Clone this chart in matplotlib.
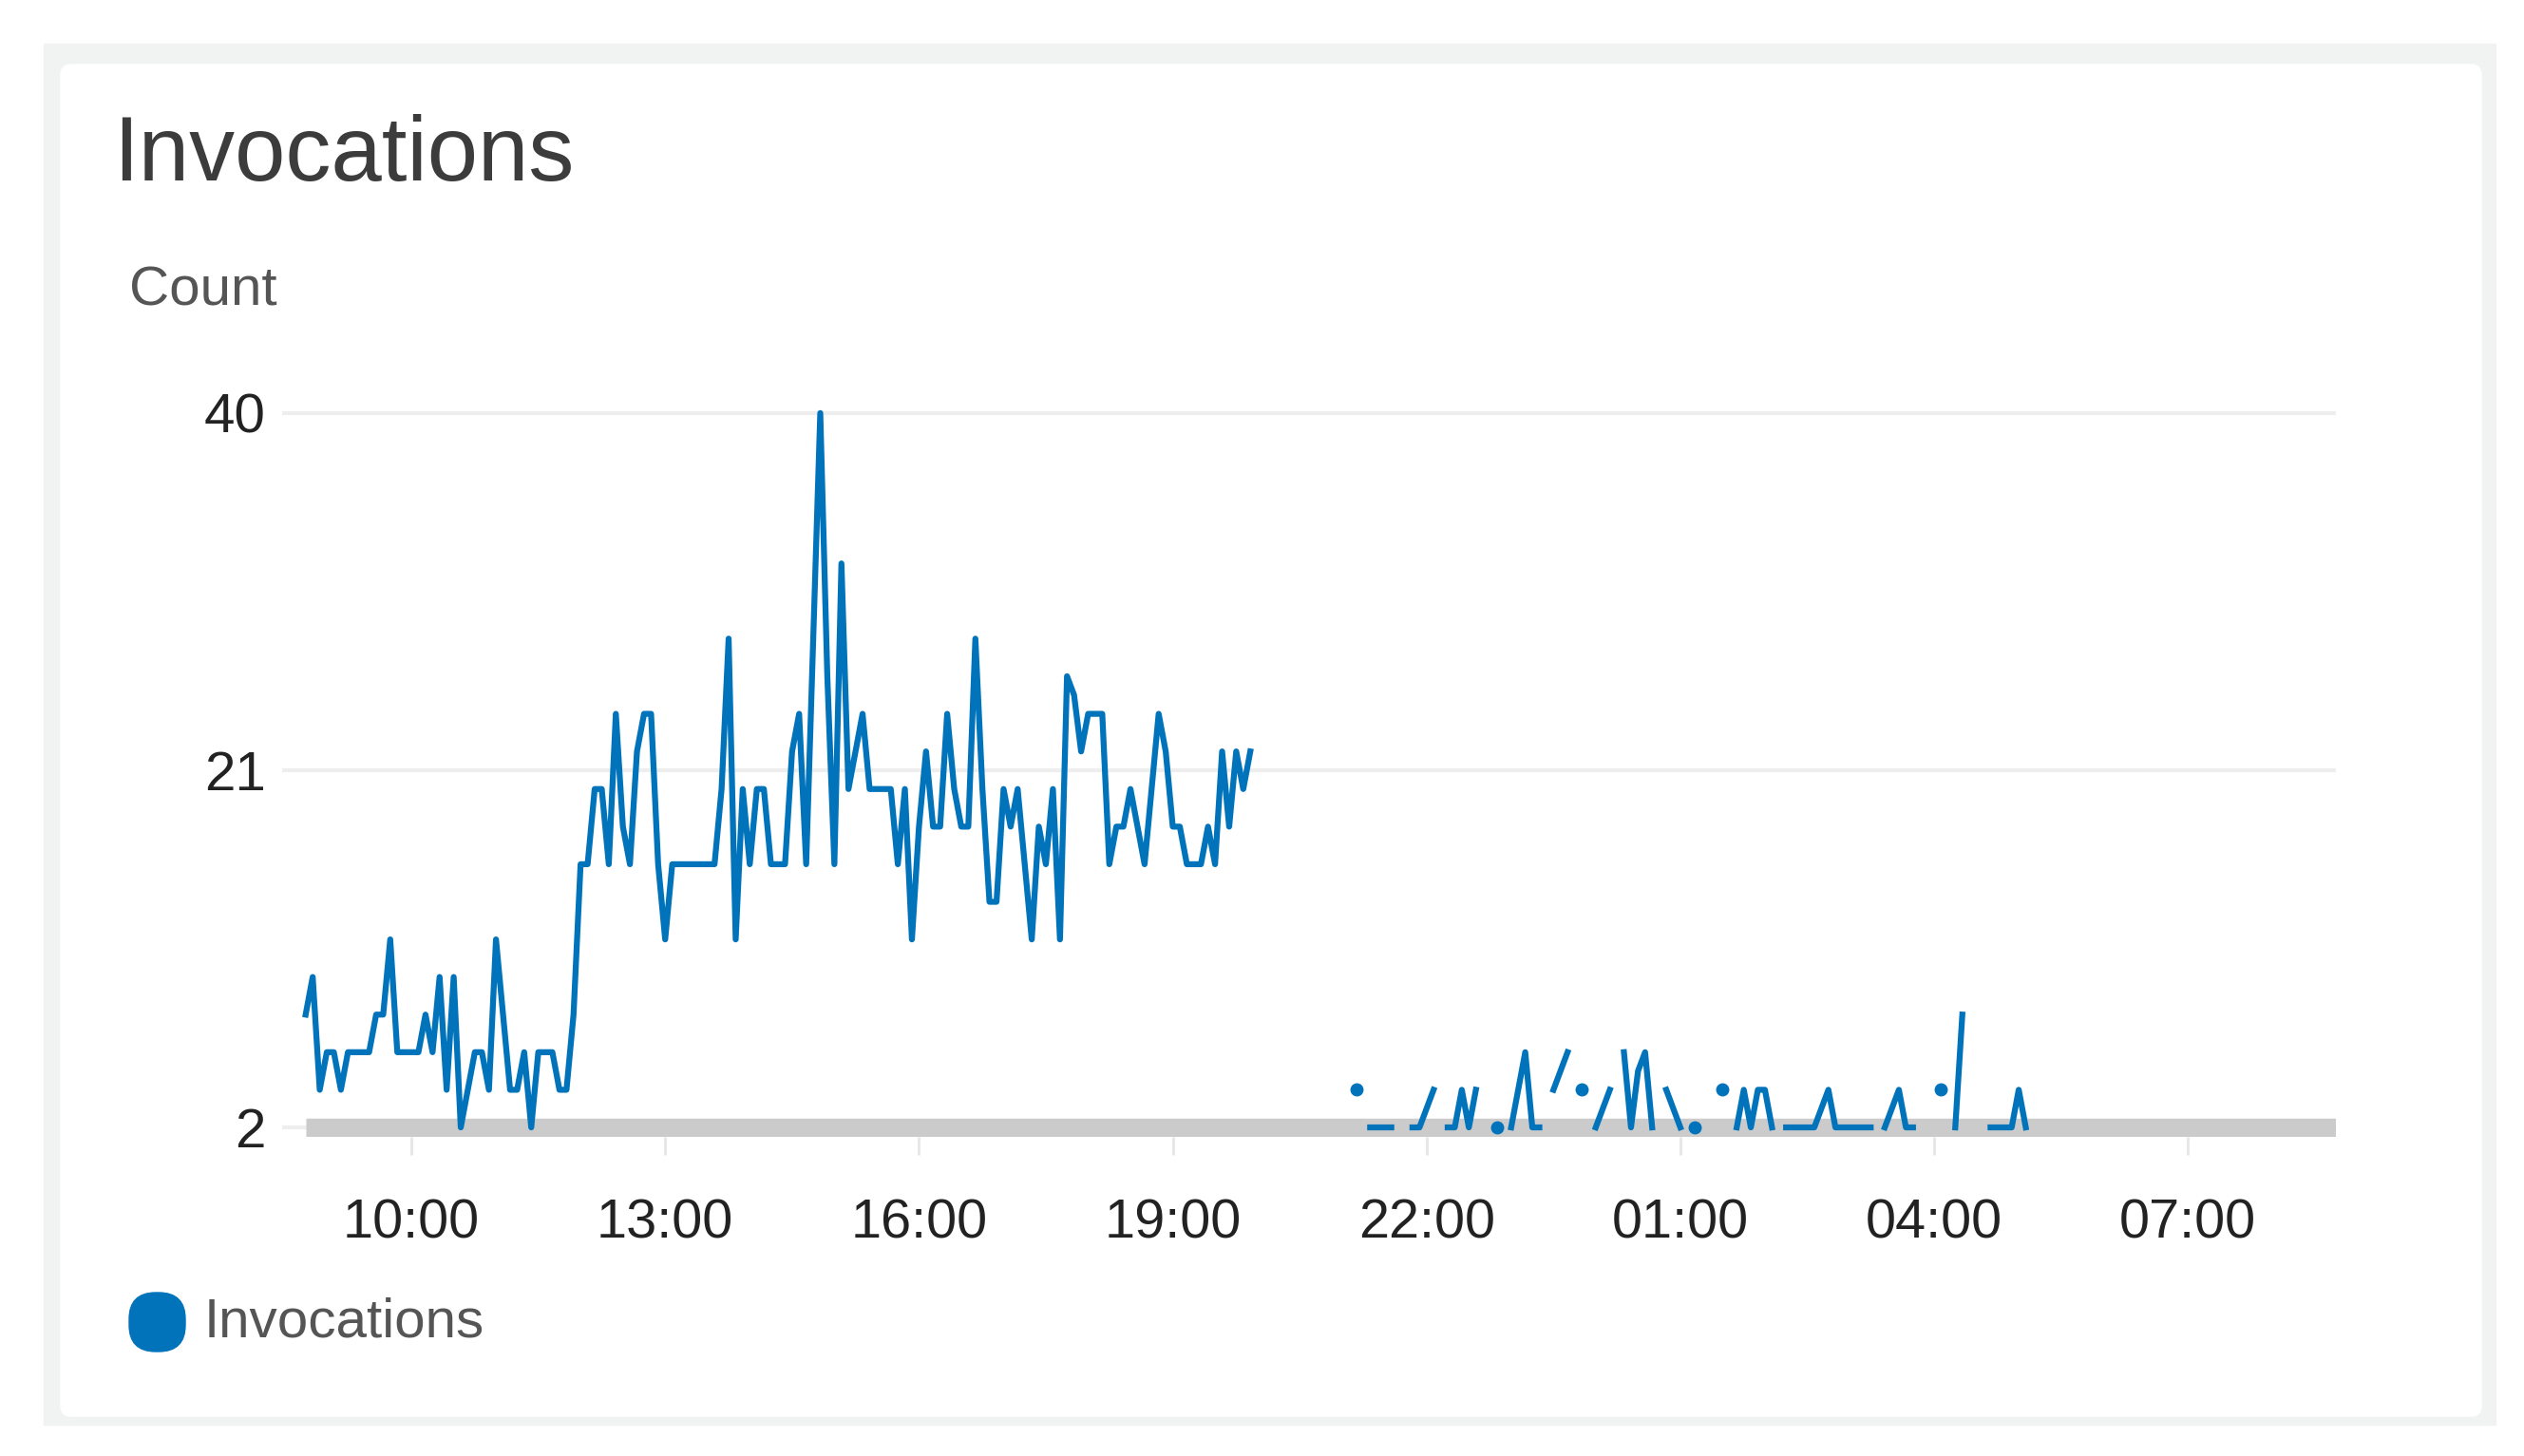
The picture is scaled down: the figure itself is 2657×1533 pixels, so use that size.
import numpy as np
import pandas as pd
import matplotlib
matplotlib.use("Agg")
import matplotlib.pyplot as plt
import matplotlib.dates as mdates
from matplotlib.patches import Rectangle, FancyBboxPatch

W, H = 2657, 1533
BLUE = "#0073bb"

plt.rcParams["font.family"] = ["Liberation Sans", "DejaVu Sans"]

# ----------------------------
# Data (5 minute sums)
# ----------------------------
START = pd.Timestamp("2020-06-01 08:45")

# daytime run, one value every 5 min from 08:45
day_counts = [
    8, 10, 4, 6, 6, 4, 6, 6, 6, 6,
    8, 8, 12, 6, 6, 6, 6, 8, 6, 10,
    4, 10, 2, 4, 6, 6, 4, 12, 8, 4,
    4, 6, 2, 6, 6, 6, 4, 4, 8, 16,
    16, 20, 20, 16, 24, 18, 16, 22, 24, 24,
    16, 12, 16, 16, 16, 16, 16, 16, 16, 20,
    28, 12, 20, 16, 20, 20, 16, 16, 16, 22,
    24, 16, 28, 40, 26, 16, 32, 20, 22, 24,
    20, 20, 20, 20, 16, 20, 12, 18, 22, 18,
    18, 24, 20, 18, 18, 28, 20, 14, 14, 20,
    18, 20, 16, 12, 18, 16, 20, 12, 26, 25,
    22, 24, 24, 24, 16, 18, 18, 20, 18, 16,
    20, 24, 22, 18, 18, 16, 16, 16, 18, 16,
    22, 18, 22, 20, 22,
]

# overnight, sparse (None = no data), starts 148 samples after START
NIGHT_OFFSET = 148
night_counts = [
    None, 4, None, 2, 2, 2, 2, None, None, 2,
    2, 3, 4, None, 2, 2, 4, 2, 4, None,
    None, 2, None, 2, 4, 6, 2, 2, None, 4,
    5, 6, None, 4, None, 2, 3, 4, None, 6,
    2, 5, 6, 2, None, 4, 3, 2, None, 2,
    None, None, None, 4, None, 2, 4, 2, 4, 4,
    2, None, 2, 2, 2, 2, 2, 3, 4, 2,
    2, 2, 2, 2, 2, None, 2, 3, 4, 2,
    2, None, None, None, 4, None, 2, 8, None, None,
    None, 2, 2, 2, 2, 4, 2,
]

y_ticks = [2, 21, 40]
x_tick_hours = [1, 4, 7, 10, 13, 16, 19, 22]

day_times = pd.date_range(START, periods=len(day_counts), freq="5min")
night_times = pd.date_range(START + pd.Timedelta(minutes=5 * NIGHT_OFFSET),
                            periods=len(night_counts), freq="5min")
night_vals = np.array(night_counts, dtype=float)

# single points with no neighbours get drawn as dots
nan_prev = np.isnan(np.r_[np.nan, night_vals[:-1]])
nan_next = np.isnan(np.r_[night_vals[1:], np.nan])
lonely = ~np.isnan(night_vals) & nan_prev & nan_next

# ----------------------------
# Figure + panel
# ----------------------------
fig = plt.figure(figsize=(W / 100, H / 100), dpi=100)
fig.patch.set_facecolor("white")

fig.add_artist(Rectangle((46 / W, 1 - 1500 / H), (2627 - 46) / W, (1500 - 46) / H,
                         transform=fig.transFigure, color="#f1f2f2", zorder=0))
fig.add_artist(FancyBboxPatch((64 / W, 1 - 1491 / H), (2612 - 64) / W, (1491 - 68) / H,
                              boxstyle="round,pad=0,rounding_size=0.004",
                              mutation_aspect=W / H,
                              transform=fig.transFigure, color="white", zorder=0))

ax = fig.add_axes([0.1116, 0.2195, 0.8139, 0.5097])
ax.set_facecolor("none")

# ----------------------------
# Plot
# ----------------------------
x0 = START - pd.Timedelta(minutes=17)
x1 = START + pd.Timedelta(hours=24)

ax.hlines(2, START, x1, color="#cbcbcb", lw=14, zorder=2)
ax.plot(day_times, day_counts, color=BLUE, lw=4.5, zorder=3)
ax.plot(night_times, night_vals, color=BLUE, lw=4.5, zorder=3)
ax.plot(night_times[lonely], night_vals[lonely], "o", color=BLUE, ms=9, zorder=3)

ax.set_xlim(x0, x1)
ax.set_ylim(1.52, 41)
ax.set_yticks(y_ticks)
ax.set_yticklabels([str(v) for v in y_ticks])
ax.yaxis.grid(True, color="#eeeeee", lw=3)
ax.set_axisbelow(True)

ax.xaxis.set_major_locator(mdates.HourLocator(byhour=x_tick_hours))
ax.xaxis.set_major_formatter(mdates.DateFormatter("%H:%M"))

for s in ax.spines.values():
    s.set_visible(False)

ax.tick_params(axis="y", length=0, pad=12, labelsize=42, labelcolor="#222222")
ax.tick_params(axis="x", direction="out", length=14, width=2, color="#e6e6e6",
               pad=33, labelsize=41.5, labelcolor="#222222")

# ----------------------------
# Text + legend
# ----------------------------
fig.text(119 / W, 1 - 190 / H, "Invocations", fontsize=69, color="#3c3c3c", va="baseline")
fig.text(136 / W, 1 - 307 / H, "Count", fontsize=42, color="#555555", va="center")

fig.add_artist(FancyBboxPatch((136 / W, 1 - 1423 / H), 59 / W, 62 / H,
                              boxstyle="round,pad=0,rounding_size=0.0105",
                              mutation_aspect=W / H,
                              transform=fig.transFigure, color=BLUE))
fig.text(215 / W, 1 - 1393 / H, "Invocations", fontsize=42, color="#555555", va="center")

fig.savefig("out.png", dpi=100)
print("Plot generated.")
